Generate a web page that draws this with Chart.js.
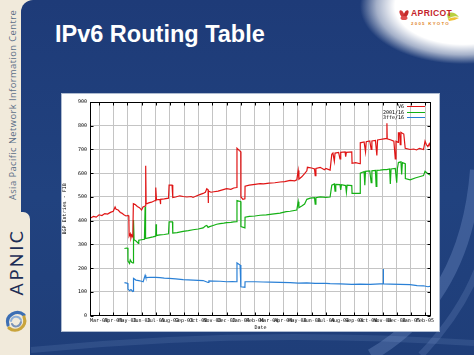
<!DOCTYPE html>
<html><head><meta charset="utf-8">
<script src="https://cdn.jsdelivr.net/npm/chart.js@4.4.1/dist/chart.umd.min.js"></script>
<style>
html,body{margin:0;padding:0;}
body{width:474px;height:355px;overflow:hidden;position:relative;background:#f1eadb;font-family:"Liberation Sans",Arial,sans-serif;}
#panel{position:absolute;left:21px;top:0;width:453px;height:355px;background:linear-gradient(180deg,#1e3b78 0%,#21427f 55%,#1f3e79 100%);border-top-left-radius:12px;overflow:hidden;}
#deco{position:absolute;left:0;top:0;}
#tab{position:absolute;left:0;top:212px;width:30px;height:143px;background:#f1eadb;border-top-right-radius:7px;}
#org{position:absolute;left:12px;top:105px;transform:translate(-50%,-50%) rotate(-90deg);white-space:nowrap;font:9.3px "Open Sans",sans-serif;color:#5c6f87;letter-spacing:0.45px;}
#apnic{position:absolute;left:16px;top:262px;transform:translate(-50%,-50%) rotate(-90deg);white-space:nowrap;font:18px Lato,sans-serif;color:#1d2d55;letter-spacing:2.6px;}
#swirl{position:absolute;left:3px;top:303px;}
#glow{position:absolute;left:360px;top:-52px;width:206px;height:116px;background:radial-gradient(ellipse closest-side,#ffffff 66%,rgba(255,255,255,0.6) 84%,rgba(255,255,255,0) 100%);}
#apricot{position:absolute;left:411px;top:9px;font:bold 8.6px "Liberation Sans",Arial,sans-serif;color:#c41f2c;letter-spacing:0.35px;line-height:1;}
#kyoto{position:absolute;left:411px;top:22px;font:bold 4.4px "Liberation Sans",Arial,sans-serif;color:#e0862a;letter-spacing:1.25px;line-height:1;}
#flogo{position:absolute;left:398px;top:8px;}
#title{position:absolute;left:55px;top:23px;font:bold 23.5px "Liberation Sans",Arial,sans-serif;color:#fff;line-height:1;white-space:nowrap;}
#box{position:absolute;left:61px;top:93px;width:377px;height:237px;background:#fff;border:1px solid #aebbd0;}
</style>
</head>
<body>
<div id="panel">
<svg id="deco" width="453" height="355">
<path d="M 350 355 Q 445 300 455 170" fill="none" stroke="rgba(150,180,230,0.25)" stroke-width="12"/>
<path d="M 400 355 Q 462 290 470 215" fill="none" stroke="rgba(150,180,230,0.18)" stroke-width="7"/>
<path d="M 10 350 Q 230 328 453 343" fill="none" stroke="rgba(150,180,230,0.14)" stroke-width="6"/>
</svg>
</div>
<div id="tab"></div>
<div id="org">Asia Pacific Network Information Centre</div>
<div id="apnic">APNIC</div>
<svg id="swirl" width="26" height="36" viewBox="0 0 26 36">
<path d="M 5 22 C 2 12, 14 6, 21 12" fill="none" stroke="#3d6fb4" stroke-width="3.2" stroke-linecap="round"/>
<path d="M 21 14 C 25 24, 13 31, 6 25" fill="none" stroke="#c9a43c" stroke-width="3.2" stroke-linecap="round"/>
<path d="M 8 18 C 9 13, 16 12, 18 17" fill="none" stroke="#8fb0d8" stroke-width="2" stroke-linecap="round"/>
<path d="M 18 19 C 17 24, 11 25, 9 21" fill="none" stroke="#7a93b8" stroke-width="2" stroke-linecap="round"/>
</svg>
<div id="glow"></div>
<svg id="flogo" width="62" height="16" viewBox="0 0 62 16">
<ellipse cx="4" cy="6" rx="2" ry="4" fill="#d33a3a" transform="rotate(-25 4 6)"/>
<ellipse cx="8" cy="6" rx="2" ry="4" fill="#c62a2a" transform="rotate(25 8 6)"/>
<ellipse cx="6" cy="10" rx="3.5" ry="2" fill="#e05050"/>
<path d="M 49 6 Q 55 2 61 9 Q 55 7 50 11 Z" fill="#b8d040"/>
<path d="M 50 11 Q 56 8 61 10 Q 56 13 51 13 Z" fill="#f0c030"/>
</svg>
<div id="apricot">APRICOT</div>
<div id="kyoto">2005 KYOTO</div>
<div id="title">IPv6 Routing Table</div>
<div id="box"><canvas id="c" width="377" height="237"></canvas></div>
<script>
// x values are months counted from Mar-03 (0 = Mar-03, 23 = Feb-05)
const monthLabels = ['Mar-03','Apr-03','May-03','Jun-03','Jul-03','Aug-03','Sep-03','Oct-03','Nov-03','Dec-03','Jan-04','Feb-04','Mar-04','Apr-04','May-04','Jun-04','Jul-04','Aug-04','Sep-04','Oct-04','Nov-04','Dec-04','Jan-05','Feb-05'];
const yTickValues = [0,100,200,300,400,500,600,700,800,900];
const seriesNames = ['V6','2001/16','3ffe/16'];

const v6Month = [-0.64,-0.4,-0.2,0.0,0.2,0.4,0.6,0.8,1.0,1.13,1.2,1.35,1.5,1.6,1.75,1.9,2.05,2.1,
 2.12,2.2,2.25,2.3,2.38,
 2.42,2.55,2.7,2.85,3.0,3.1,3.25,3.29,3.32,3.5,3.7,3.95,4.0,4.05,4.3,4.32,4.36,4.6,4.9,4.94,5.15,5.2,5.4,5.7,5.93,6.2,6.5,6.63,6.9,7.1,7.34,7.5,7.6,7.69,7.7,7.72,7.9,8.1,8.4,8.7,9.0,9.3,9.5,9.72,
 9.73,9.9,10.0,10.01,10.15,10.29,10.3,10.6,11.0,11.36,11.6,12.0,12.4,12.77,13.1,13.48,13.8,13.95,14.05,14.1,14.3,14.5,14.66,14.7,15.0,15.2,15.25,15.3,15.6,15.9,16.0,16.3,
 16.42,16.5,16.6,16.65,16.9,17.0,17.05,17.36,17.4,17.45,17.83,17.85,18.1,18.42,
 18.43,18.7,18.8,18.85,19.1,19.2,19.25,19.5,19.6,19.65,19.83,20.1,20.3,20.31,20.33,20.6,20.8,20.9,20.95,21.1,21.12,21.2,21.25,21.3,21.4,21.5,21.6,21.95,22.2,22.4,22.6,22.89,23.0,23.1,23.2,23.3,23.42];
const v6Entries = [410,418,415,425,422,430,428,435,440,458,448,445,435,432,425,420,422,418,
 335,345,328,340,332,
 472,468,460,455,445,458,462,632,470,475,478,485,540,488,490,470,490,492,495,550,550,498,500,505,502,500,502,498,505,510,515,520,535,530,475,525,520,522,525,530,535,532,538,540,
 705,695,690,500,490,492,545,550,553,556,555,558,560,563,565,570,568,572,612,575,585,598,610,625,622,618,590,620,625,615,620,613,
 680,685,650,685,688,660,688,690,670,688,690,642,645,640,
 728,732,690,733,736,700,736,738,675,740,742,745,747,810,745,740,735,660,735,730,770,770,720,772,768,765,705,700,702,698,705,700,735,720,712,725,705];

const p2001Month = [1.79,1.95,2.03,2.04,2.15,2.2,2.3,2.38,2.42,2.43,2.47,2.6,2.77,2.8,3.0,3.2,3.25,3.28,3.5,3.8,4.0,4.02,4.05,4.3,4.6,4.9,4.94,5.18,5.2,5.5,5.93,6.3,6.63,7.0,7.34,7.5,7.6,7.69,7.8,8.05,8.3,8.54,8.8,9.0,9.3,9.5,9.72,
 9.73,10.0,10.01,10.29,10.3,10.6,11.0,11.36,11.8,12.2,12.77,13.2,13.48,13.95,14.05,14.1,14.3,14.5,14.66,14.9,15.2,15.25,15.3,15.6,16.0,16.3,
 16.42,16.6,16.65,16.7,17.0,17.05,17.1,17.4,17.45,17.5,17.83,17.85,18.42,
 18.43,18.7,18.75,18.8,19.1,19.2,19.25,19.5,19.55,19.6,19.83,20.1,20.3,20.5,20.55,20.6,20.9,21.0,21.05,21.12,21.3,21.35,21.4,21.6,21.61,21.95,22.3,22.6,22.89,23.0,23.2,23.42];
const p2001Entries = [283,285,284,230,220,235,225,222,222,403,320,315,305,318,320,322,460,325,328,332,335,385,338,340,342,345,395,395,348,350,355,358,362,365,370,378,380,372,375,380,385,388,390,392,393,395,396,
 485,480,375,370,415,418,420,423,425,428,432,438,440,445,480,455,462,470,490,495,497,470,497,500,498,500,
 550,555,525,553,552,530,552,548,520,550,548,515,515,
 600,607,550,608,610,560,610,612,545,612,613,615,615,618,555,618,620,560,620,645,648,595,645,640,578,572,580,585,590,608,598,590];

const p3ffeMonth = [1.79,1.95,2.03,2.04,2.15,2.25,2.38,2.42,2.43,2.6,2.8,3.0,3.11,3.25,3.3,3.6,4.0,4.3,4.6,4.94,5.4,5.93,6.63,7.34,7.69,7.75,8.05,8.54,9.01,9.4,9.72,
 9.73,9.95,10.0,10.01,10.29,10.3,11.0,11.57,12.07,12.77,13.48,14.06,14.66,15.24,16.0,16.3,17.01,17.83,18.42,19.13,19.83,20.04,20.05,20.07,20.54,21.24,21.95,22.44,22.89,23.2,23.42];
const p3ffeEntries = [139,137,136,112,105,110,102,103,157,150,148,145,143,170,160,162,161,160,158,157,155,152,150,148,140,147,146,145,143,144,143,
 222,213,212,122,120,143,143,142,141,140,139,137,138,136,136,135,134,132,133,132,134,134,197,134,133,132,131,127,126,122,125];

const seriesColors = ['#e01414','#14b014','#2a80d6'];
const monoFont = {family:'"DejaVu Sans Mono", monospace', size:5};

function toPoints(xs, ys){ return xs.map((x,i)=>({x:x, y:ys[i]})); }

const gnuFrame = {
  id:'gnuFrame',
  afterDatasetsDraw(chart){
    const {ctx, chartArea:a, scales:{x, y}} = chart;
    ctx.save();
    ctx.strokeStyle = '#000'; ctx.lineWidth = 1;
    const L = Math.round(a.left)+0.5, T = Math.round(a.top)+0.5, R = Math.round(a.right)-0.5, B = Math.round(a.bottom)-0.5;
    ctx.strokeRect(L, T, R-L, B-T);
    ctx.beginPath();
    x.ticks.forEach(t=>{const px = Math.round(x.getPixelForValue(t.value))+0.5; ctx.moveTo(px,B); ctx.lineTo(px,B-3); ctx.moveTo(px,T); ctx.lineTo(px,T+3);});
    y.ticks.forEach(t=>{const py = Math.round(y.getPixelForValue(t.value))+0.5; ctx.moveTo(L,py); ctx.lineTo(L+3,py); ctx.moveTo(R,py); ctx.lineTo(R-3,py);});
    ctx.stroke();
    ctx.font = '5px "DejaVu Sans Mono", monospace';
    ctx.textAlign = 'right'; ctx.textBaseline = 'middle';
    chart.data.datasets.forEach((ds,i)=>{
      const yy = Math.round(a.top + 4 + i*5.5) + 0.5;
      ctx.fillStyle = '#000';
      ctx.fillText(ds.label, a.right-27, yy);
      ctx.strokeStyle = ds.borderColor;
      ctx.beginPath(); ctx.moveTo(a.right-24, yy); ctx.lineTo(a.right-6, yy); ctx.stroke();
    });
    ctx.restore();
  }
};

new Chart(document.getElementById('c'), {
  type:'line',
  data:{
    datasets:[
      {label:seriesNames[0], data:toPoints(v6Month, v6Entries), borderColor:seriesColors[0]},
      {label:seriesNames[1], data:toPoints(p2001Month, p2001Entries), borderColor:seriesColors[1]},
      {label:seriesNames[2], data:toPoints(p3ffeMonth, p3ffeEntries), borderColor:seriesColors[2]}
    ]
  },
  options:{
    responsive:false, animation:false, devicePixelRatio:1,
    layout:{padding:{left:0, right:8, top:8, bottom:0}},
    elements:{line:{borderWidth:1.2, tension:0, fill:false}, point:{radius:0, hoverRadius:0}},
    plugins:{legend:{display:false}, tooltip:{enabled:false}},
    scales:{
      x:{
        type:'linear', min:-0.64, max:23.42,
        afterBuildTicks:s=>{ s.ticks = monthLabels.map((_,i)=>({value:i})); },
        afterFit:s=>{ s.height = 15.3; },
        grid:{color:'#c4c4c4', drawTicks:false},
        border:{display:false},
        ticks:{autoSkip:false, maxRotation:0, minRotation:0, padding:2, color:'#000', font:monoFont,
          callback:(v)=>monthLabels[v]},
        title:{display:true, text:'Date', color:'#000', font:monoFont, padding:{top:0,bottom:0.5}}
      },
      y:{
        min:0, max:900,
        afterBuildTicks:s=>{ s.ticks = yTickValues.map(v=>({value:v})); },
        afterFit:s=>{ s.width = 28; },
        grid:{color:'#c4c4c4', drawTicks:false},
        border:{display:false},
        ticks:{padding:3, color:'#000', font:monoFont},
        title:{display:true, text:'BGP Entries - FIB', color:'#000', font:monoFont, padding:0}
      }
    }
  },
  plugins:[gnuFrame]
});
</script>
</body></html>
